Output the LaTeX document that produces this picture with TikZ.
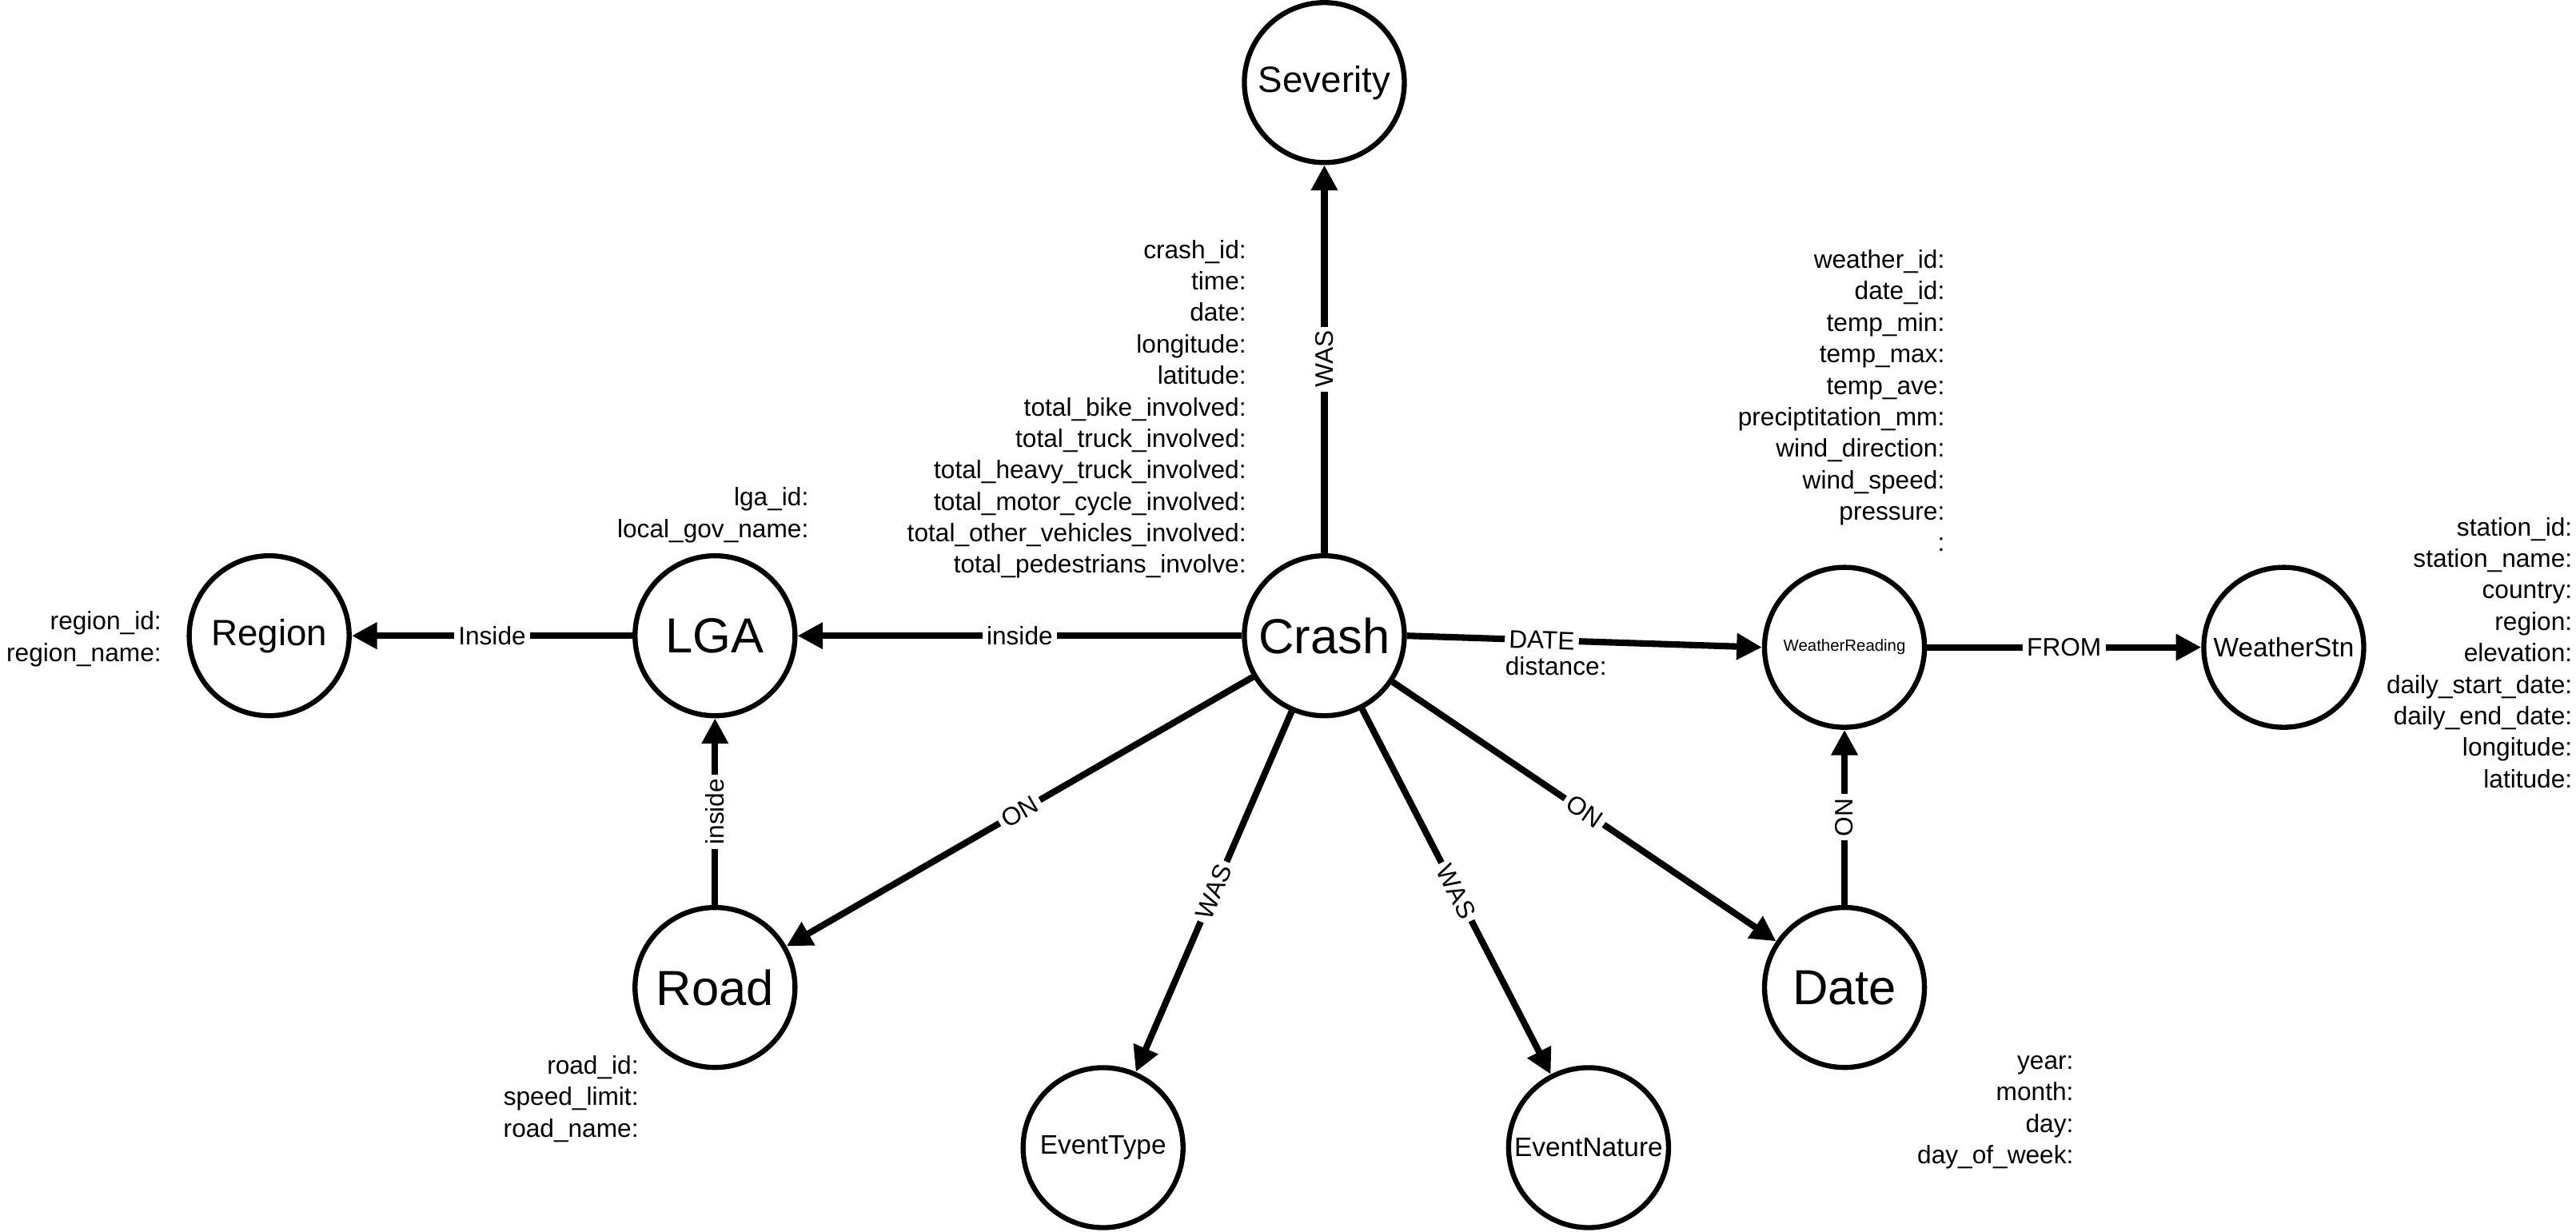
\documentclass[tikz,border=0pt]{standalone}
\usepackage{fontspec}
\setmainfont{Liberation Sans}
\usetikzlibrary{arrows.meta}
\begin{document}
\begin{tikzpicture}[x=0.02065cm,y=-0.02065cm,
  ent/.style={circle,draw,line width=1.8pt,fill=white,inner sep=0pt,minimum size=2.0cm},
  rel/.style={line width=2.3pt,-{Triangle[length=9pt,width=9pt]}},
  lab/.style={fill=white,font=\fontsize{9}{10}\selectfont,inner sep=1.5pt},
  props/.style={align=right,anchor=north east,font=\fontsize{9}{11.2}\selectfont,inner sep=0pt}]
\useasboundingbox (0,0) rectangle (1560,746);
\node[ent,font=\fontsize{13}{14}\selectfont] (sev) at (802,50) {Severity};
\node[ent,font=\fontsize{17.5}{19}\selectfont] (crash) at (802,385) {Crash};
\node[ent,font=\fontsize{17.5}{19}\selectfont] (lga) at (433,385) {LGA};
\node[ent,font=\fontsize{13}{14}\selectfont] (region) at (163,385) {Region};
\node[ent,font=\fontsize{17.5}{19}\selectfont] (road) at (433,598) {Road};
\node[ent,font=\fontsize{9.5}{11}\selectfont] (etype) at (668,695) {EventType};
\node[ent,font=\fontsize{9.5}{11}\selectfont] (enat) at (962,695) {EventNature};
\node[ent,font=\fontsize{17.5}{19}\selectfont] (date) at (1117,598) {Date};
\node[ent,font=\fontsize{5.8}{7}\selectfont] (wr) at (1117,392) {WeatherReading};
\node[ent,font=\fontsize{9.5}{11}\selectfont] (ws) at (1383,392) {WeatherStn};

% properties
\node[props] (pcrash) at (755,145) {crash\_id:\\time:\\date:\\longitude:\\latitude:\\total\_bike\_involved:\\total\_truck\_involved:\\total\_heavy\_truck\_involved:\\total\_motor\_cycle\_involved:\\total\_other\_vehicles\_involved:\\total\_pedestrians\_involve:};
\node[props] (plga) at (490,295) {lga\_id:\\local\_gov\_name:};
\node[props] (pregion) at (98,370) {region\_id:\\region\_name:};
\node[props] (proad) at (387,639) {road\_id:\\speed\_limit:\\road\_name:};
\node[props] (pdate) at (1256,639) {year:\\month:\\day:\\day\_of\_week:};
\node[props] (pwr) at (1178,151) {weather\_id:\\date\_id:\\temp\_min:\\temp\_max:\\temp\_ave:\\preciptitation\_mm:\\wind\_direction:\\wind\_speed:\\pressure:\\:};
\node[props] (pws) at (1558,313) {station\_id:\\station\_name:\\country:\\region:\\elevation:\\daily\_start\_date:\\daily\_end\_date:\\longitude:\\latitude:};

% relationships
\draw[rel] (crash) -- node[lab,sloped] {WAS} (sev);
\draw[rel] (crash) -- node[lab] {inside} (lga);
\draw[rel] (lga) -- node[lab] {Inside} (region);
\draw[rel] (road) -- node[lab,sloped] {inside} (lga);
\draw[rel] (crash) -- node[lab,sloped] {ON} (road);
\draw[rel] (crash) -- node[lab,sloped] {WAS} (etype);
\draw[rel] (crash) -- node[lab,sloped] {WAS} (enat);
\draw[rel] (crash) -- node[lab,sloped] {ON} (date);
\draw[rel] (crash.east) -- node[lab,sloped,pos=0.38] {DATE} node[lab,below=3pt,pos=0.42,fill=none] {distance:} (wr.west);
\draw[rel] (date) -- node[lab,sloped] {ON} (wr);
\draw[rel] (wr) -- node[lab] {FROM} (ws);
\end{tikzpicture}
\end{document}
